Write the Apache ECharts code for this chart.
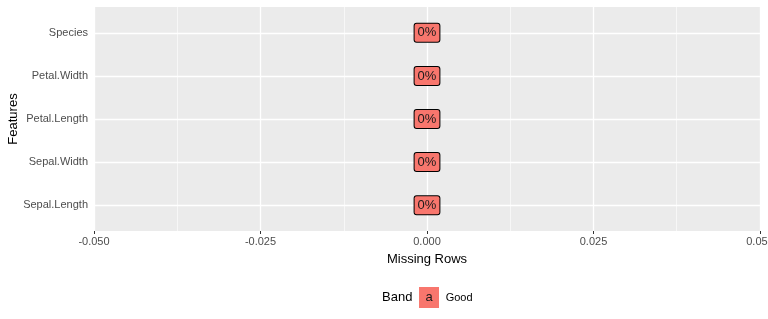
<!DOCTYPE html>
<html><head><meta charset="utf-8">
<script src="https://cdn.jsdelivr.net/npm/echarts@6/dist/echarts.min.js"></script>
<style>html,body{margin:0;padding:0;background:#fff}#c{width:768px;height:319px}</style>
</head><body><div id="c"></div>
<script>
var features = ['Sepal.Length', 'Sepal.Width', 'Petal.Length', 'Petal.Width', 'Species'];
var missingRows = [0, 0, 0, 0, 0];
var pctLabels = ['0%', '0%', '0%', '0%', '0%'];
var bandName = 'Good';
var xTicks = [-0.05, -0.025, 0, 0.025, 0.05];

var chart = echarts.init(document.getElementById('c'), null, {renderer: 'canvas'});
var pos = features.map(function (f, i) { return i + 1; });
var fontFam = 'Liberation Sans, Arial, sans-serif';
chart.setOption({
  animation: false,
  textStyle: {fontFamily: fontFam},
  grid: {left: 94, right: 8, top: 7, bottom: 88, show: true, backgroundColor: '#EBEBEB', borderWidth: 0,
    containLabel: false, outerBoundsMode: 'none'},
  xAxis: {
    type: 'value', min: xTicks[0], max: xTicks[xTicks.length - 1], interval: 0.025,
    name: 'Missing Rows', nameLocation: 'middle', nameGap: 22, nameMoveOverlap: false,
    nameTextStyle: {color: '#000', fontSize: 13, fontFamily: fontFam},
    axisLine: {show: false},
    axisTick: {show: true, length: 3, lineStyle: {color: '#333', width: 1}},
    axisLabel: {color: '#4D4D4D', fontSize: 11, margin: 5, fontFamily: fontFam, hideOverlap: false,
      showMinLabel: true, showMaxLabel: true,
      formatter: function (v) { return v.toFixed(3); }},
    splitLine: {show: true, lineStyle: {color: '#fff', width: 1.3}},
    minorTick: {show: false, splitNumber: 2},
    minorSplitLine: {show: true, lineStyle: {color: '#fff', width: 0.6}}
  },
  yAxis: {
    type: 'value', min: 0.4, max: features.length + 0.6,
    name: 'Features', nameLocation: 'middle', nameGap: 74, nameRotate: 90, nameMoveOverlap: false,
    nameTextStyle: {color: '#000', fontSize: 13, fontFamily: fontFam},
    axisLine: {show: false},
    axisTick: {show: true, length: 4, customValues: pos, lineStyle: {color: '#333', width: 1}},
    axisLabel: {color: '#4D4D4D', fontSize: 11, margin: 6, fontFamily: fontFam, customValues: pos,
      formatter: function (v) { return features[Math.round(v) - 1] || ''; }},
    splitLine: {show: true, lineStyle: {color: '#fff', width: 1.3}}
  },
  legend: {
    left: 372, top: 282, itemWidth: 0, itemHeight: 0, icon: 'rect',
    data: [bandName],
    formatter: function (n) { return '{b|Band}  {k|a}  {t|' + n + '}'; },
    textStyle: {
      rich: {
        b: {fontSize: 13, color: '#000', fontFamily: fontFam},
        k: {fontSize: 13, color: '#1a1a1a', backgroundColor: '#F8766D', width: 20, height: 21, align: 'center', lineHeight: 21, fontFamily: fontFam},
        t: {fontSize: 11, color: '#000', fontFamily: fontFam}
      }
    }
  },
  series: [{
    name: bandName, type: 'scatter', symbolSize: 0, itemStyle: {color: '#F8766D', opacity: 1},
    data: missingRows.map(function (v, i) { return [v, pos[i]]; }),
    label: {
      show: true, position: 'inside',
      formatter: function (p) { return pctLabels[p.dataIndex]; },
      color: '#1a1a1a', fontSize: 13, fontFamily: fontFam,
      backgroundColor: '#F8766D', borderColor: '#000', borderWidth: 1, borderRadius: 2,
      padding: [3, 3, 2, 3]
    }
  }]
});
</script></body></html>
